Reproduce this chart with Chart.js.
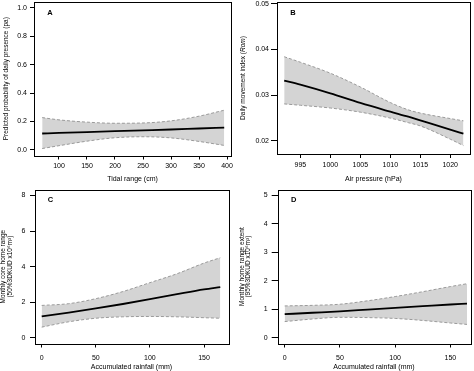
<!DOCTYPE html>
<html>
<head>
<meta charset="utf-8">
<script src="https://cdn.jsdelivr.net/npm/chart.js@4"></script>
<style>
  body { margin: 0; background: #fff; }
  #wrap { position: relative; width: 474px; height: 371px; }
  canvas { position: absolute; }
</style>
</head>
<body>
<div id="wrap">
  <canvas id="chartA" style="left:0;top:0" width="237" height="185"></canvas>
  <canvas id="chartB" style="left:237px;top:0" width="237" height="185"></canvas>
  <canvas id="chartC" style="left:0;top:185px" width="237" height="186"></canvas>
  <canvas id="chartD" style="left:237px;top:185px" width="237" height="186"></canvas>
</div>
<script>
// A - tidal range vs probability of daily presence
const tideX     = [70, 100, 150, 200, 250, 300, 350, 395];
const tideFit   = [0.116, 0.120, 0.126, 0.132, 0.138, 0.144, 0.151, 0.157];
const tideUpper = [0.228, 0.212, 0.196, 0.188, 0.190, 0.205, 0.238, 0.280];
const tideLower = [0.010, 0.030, 0.062, 0.086, 0.093, 0.085, 0.060, 0.032];

// B - air pressure vs daily movement index
const pressX     = [992.3, 995, 1000, 1005, 1010, 1013, 1015, 1020, 1022.2];
const pressFit   = [0.0332, 0.0323, 0.0304, 0.0283, 0.0264, 0.0253, 0.0245, 0.0225, 0.0216];
const pressUpper = [0.0384, 0.0372, 0.0348, 0.0318, 0.0284, 0.0268, 0.0261, 0.0249, 0.0244];
const pressLower = [0.0281, 0.0278, 0.0272, 0.0263, 0.0250, 0.0240, 0.0233, 0.0204, 0.0190];

// C - rainfall vs core home range
const rainX     = [0, 25, 50, 75, 100, 125, 150, 165];
const coreFit   = [1.20, 1.42, 1.65, 1.90, 2.17, 2.45, 2.72, 2.85];
const coreUpper = [1.82, 1.92, 2.20, 2.60, 3.10, 3.60, 4.20, 4.50];
const coreLower = [0.60, 0.90, 1.10, 1.18, 1.20, 1.18, 1.13, 1.10];

// D - rainfall vs home range extent
const extFit   = [0.83, 0.88, 0.93, 0.99, 1.05, 1.11, 1.17, 1.20];
const extUpper = [1.12, 1.14, 1.18, 1.30, 1.45, 1.62, 1.80, 1.90];
const extLower = [0.57, 0.66, 0.72, 0.71, 0.68, 0.61, 0.52, 0.47];

const FONT = "'Liberation Sans', Arial, sans-serif";

function pts(xs, ys) {
    return xs.map((x, i) => ({ x: x, y: ys[i] }));
}

// draws the R style box, the panel letter and (for B) the mixed italic y title
const boxPlugin = {
    id: 'rbox',
    afterDraw(chart) {
        const a = chart.chartArea;
        const ctx = chart.ctx;
        const opt = chart.options.plugins.rbox;
        ctx.save();
        ctx.strokeStyle = '#000';
        ctx.lineWidth = 1;
        ctx.strokeRect(Math.round(a.left) + 0.5, Math.round(a.top) + 0.5,
            Math.round(a.right - a.left), Math.round(a.bottom - a.top));
        ctx.fillStyle = '#000';
        ctx.font = "bold 7.5px " + FONT;
        ctx.textAlign = 'center';
        ctx.textBaseline = 'middle';
        ctx.fillText(opt.letter, a.left + 16, a.top + 10.5);

        if (opt.titleParts) {
            // y title made of plain + italic pieces, rotated like an axis title
            let total = 0;
            opt.titleParts.forEach(p => {
                ctx.font = (p.italic ? 'italic ' : '') + '6.5px ' + FONT;
                total += ctx.measureText(p.text).width;
            });
            ctx.translate(opt.titleX, (a.top + a.bottom) / 2);
            ctx.rotate(-Math.PI / 2);
            ctx.textAlign = 'left';
            let x = -total / 2;
            opt.titleParts.forEach(p => {
                ctx.font = (p.italic ? 'italic ' : '') + '6.5px ' + FONT;
                ctx.fillText(p.text, x, 0);
                x += ctx.measureText(p.text).width;
            });
        }
        ctx.restore();
    }
};

function makePanel(id, o) {
    const canvas = document.getElementById(id);
    const W = canvas.width, H = canvas.height;
    const ar = o.area;

    new Chart(canvas, {
        type: 'line',
        data: {
            datasets: [
                { data: pts(o.x, o.fit), borderColor: '#000', borderWidth: 1.8, fill: false },
                { data: pts(o.x, o.upper), borderColor: '#9a9a9a', borderWidth: 1, borderDash: [3, 2],
                  fill: '+1', backgroundColor: '#d4d4d4' },
                { data: pts(o.x, o.lower), borderColor: '#9a9a9a', borderWidth: 1, borderDash: [3, 2], fill: false }
            ]
        },
        options: {
            responsive: false,
            animation: false,
            layout: { padding: { left: 0, top: ar.top, right: W - ar.right, bottom: 0 } },
            elements: { point: { radius: 0 }, line: { tension: 0.4, cubicInterpolationMode: 'monotone' } },
            plugins: {
                legend: { display: false },
                tooltip: { enabled: false },
                filler: { drawTime: 'beforeDatasetsDraw' },
                rbox: { letter: o.letter, titleParts: o.titleParts, titleX: o.titleX }
            },
            scales: {
                x: {
                    type: 'linear',
                    min: o.xMin, max: o.xMax,
                    afterBuildTicks: s => { s.ticks = o.xTicks.map(v => ({ value: v })); },
                    afterFit: s => { s.height = H - ar.bottom; s.paddingLeft = 0; s.paddingRight = 0; s.paddingTop = 0; s.paddingBottom = 0; },
                    grid: { drawOnChartArea: false, drawTicks: true, tickLength: o.xTickLen, color: '#000' },
                    border: { display: false },
                    ticks: { color: '#000', font: { family: FONT, size: 7 }, padding: o.xPad, maxRotation: 0, autoSkip: false,
                             callback: v => String(v) },
                    title: { display: true, text: o.xTitle, color: '#000', font: { family: FONT, size: 7, lineHeight: 1 },
                             padding: { top: 0, bottom: o.xTitlePad } }
                },
                y: {
                    type: 'linear',
                    min: o.yMin, max: o.yMax,
                    afterBuildTicks: s => { s.ticks = o.yTicks.map(v => ({ value: v })); },
                    afterFit: s => { s.width = ar.left; s.paddingLeft = 0; s.paddingRight = 0; s.paddingTop = 0; s.paddingBottom = 0; },
                    grid: { drawOnChartArea: false, drawTicks: true, tickLength: o.yTickLen, color: '#000' },
                    border: { display: false },
                    ticks: { color: '#000', font: { family: FONT, size: 7 }, padding: o.yPad, autoSkip: false,
                             callback: v => v.toFixed(o.yDec) },
                    title: { display: !!o.yTitle, text: o.yTitle || '', color: '#000', font: { family: FONT, size: 6.5, lineHeight: 1 },
                             padding: { top: o.yTitlePad, bottom: 0 } }
                }
            }
        },
        plugins: [boxPlugin]
    });
}

makePanel('chartA', {
    letter: 'A', x: tideX, fit: tideFit, upper: tideUpper, lower: tideLower,
    area: { left: 34, top: 2, right: 231, bottom: 155.5 },
    xMin: 55.4, xMax: 407.1, yMin: -0.039, yMax: 1.042,
    xTicks: [100, 150, 200, 250, 300, 350, 400], yTicks: [0, 0.2, 0.4, 0.6, 0.8, 1.0], yDec: 1,
    xTickLen: 4, xPad: 2, yTickLen: 4, yPad: 3, xTitlePad: 2.5, yTitlePad: 2.5,
    xTitle: 'Tidal range (cm)', yTitle: 'Predicted probability of daily presence (pa)'
});

makePanel('chartB', {
    letter: 'B', x: pressX, fit: pressFit, upper: pressUpper, lower: pressLower,
    area: { left: 40, top: 2, right: 233, bottom: 154 },
    xMin: 991.1, xMax: 1023.3, yMin: 0.01716, yMax: 0.05035,
    xTicks: [995, 1000, 1005, 1010, 1015, 1020], yTicks: [0.02, 0.03, 0.04, 0.05], yDec: 2,
    xTickLen: 4, xPad: 3, yTickLen: 6, yPad: 2, xTitlePad: 2.5, yTitlePad: 3,
    xTitle: 'Air pressure (hPa)', yTitle: null,
    titleX: 6.5, titleParts: [{ text: 'Daily movement index (' }, { text: 'Rom', italic: true }, { text: ')' }]
});

makePanel('chartC', {
    letter: 'C', x: rainX, fit: coreFit, upper: coreUpper, lower: coreLower,
    area: { left: 34.5, top: 4.8, right: 228.5, bottom: 158.5 },
    xMin: -6.65, xMax: 172.6, yMin: -0.32, yMax: 8.32,
    xTicks: [0, 50, 100, 150], yTicks: [0, 2, 4, 6, 8], yDec: 0,
    xTickLen: 4, xPad: 6, yTickLen: 4.5, yPad: 4.5, xTitlePad: 0.5, yTitlePad: 0,
    xTitle: 'Accumulated rainfall (mm)', yTitle: ['Monthly core home range', '(50%3DKUD x10\u2076m\u00b3)']
});

makePanel('chartD', {
    letter: 'D', x: rainX, fit: extFit, upper: extUpper, lower: extLower,
    area: { left: 40.7, top: 4.8, right: 233.3, bottom: 158.5 },
    xMin: -6.33, xMax: 168, yMin: -0.2, yMax: 5.2,
    xTicks: [0, 50, 100, 150], yTicks: [0, 1, 2, 3, 4, 5], yDec: 0,
    xTickLen: 4, xPad: 6, yTickLen: 6, yPad: 4, xTitlePad: 0, yTitlePad: 1.7,
    xTitle: 'Accumulated rainfall (mm)', yTitle: ['Monthly home range extent', '(95%3DKUD x10\u2076m\u00b3)']
});
</script>
</body>
</html>
